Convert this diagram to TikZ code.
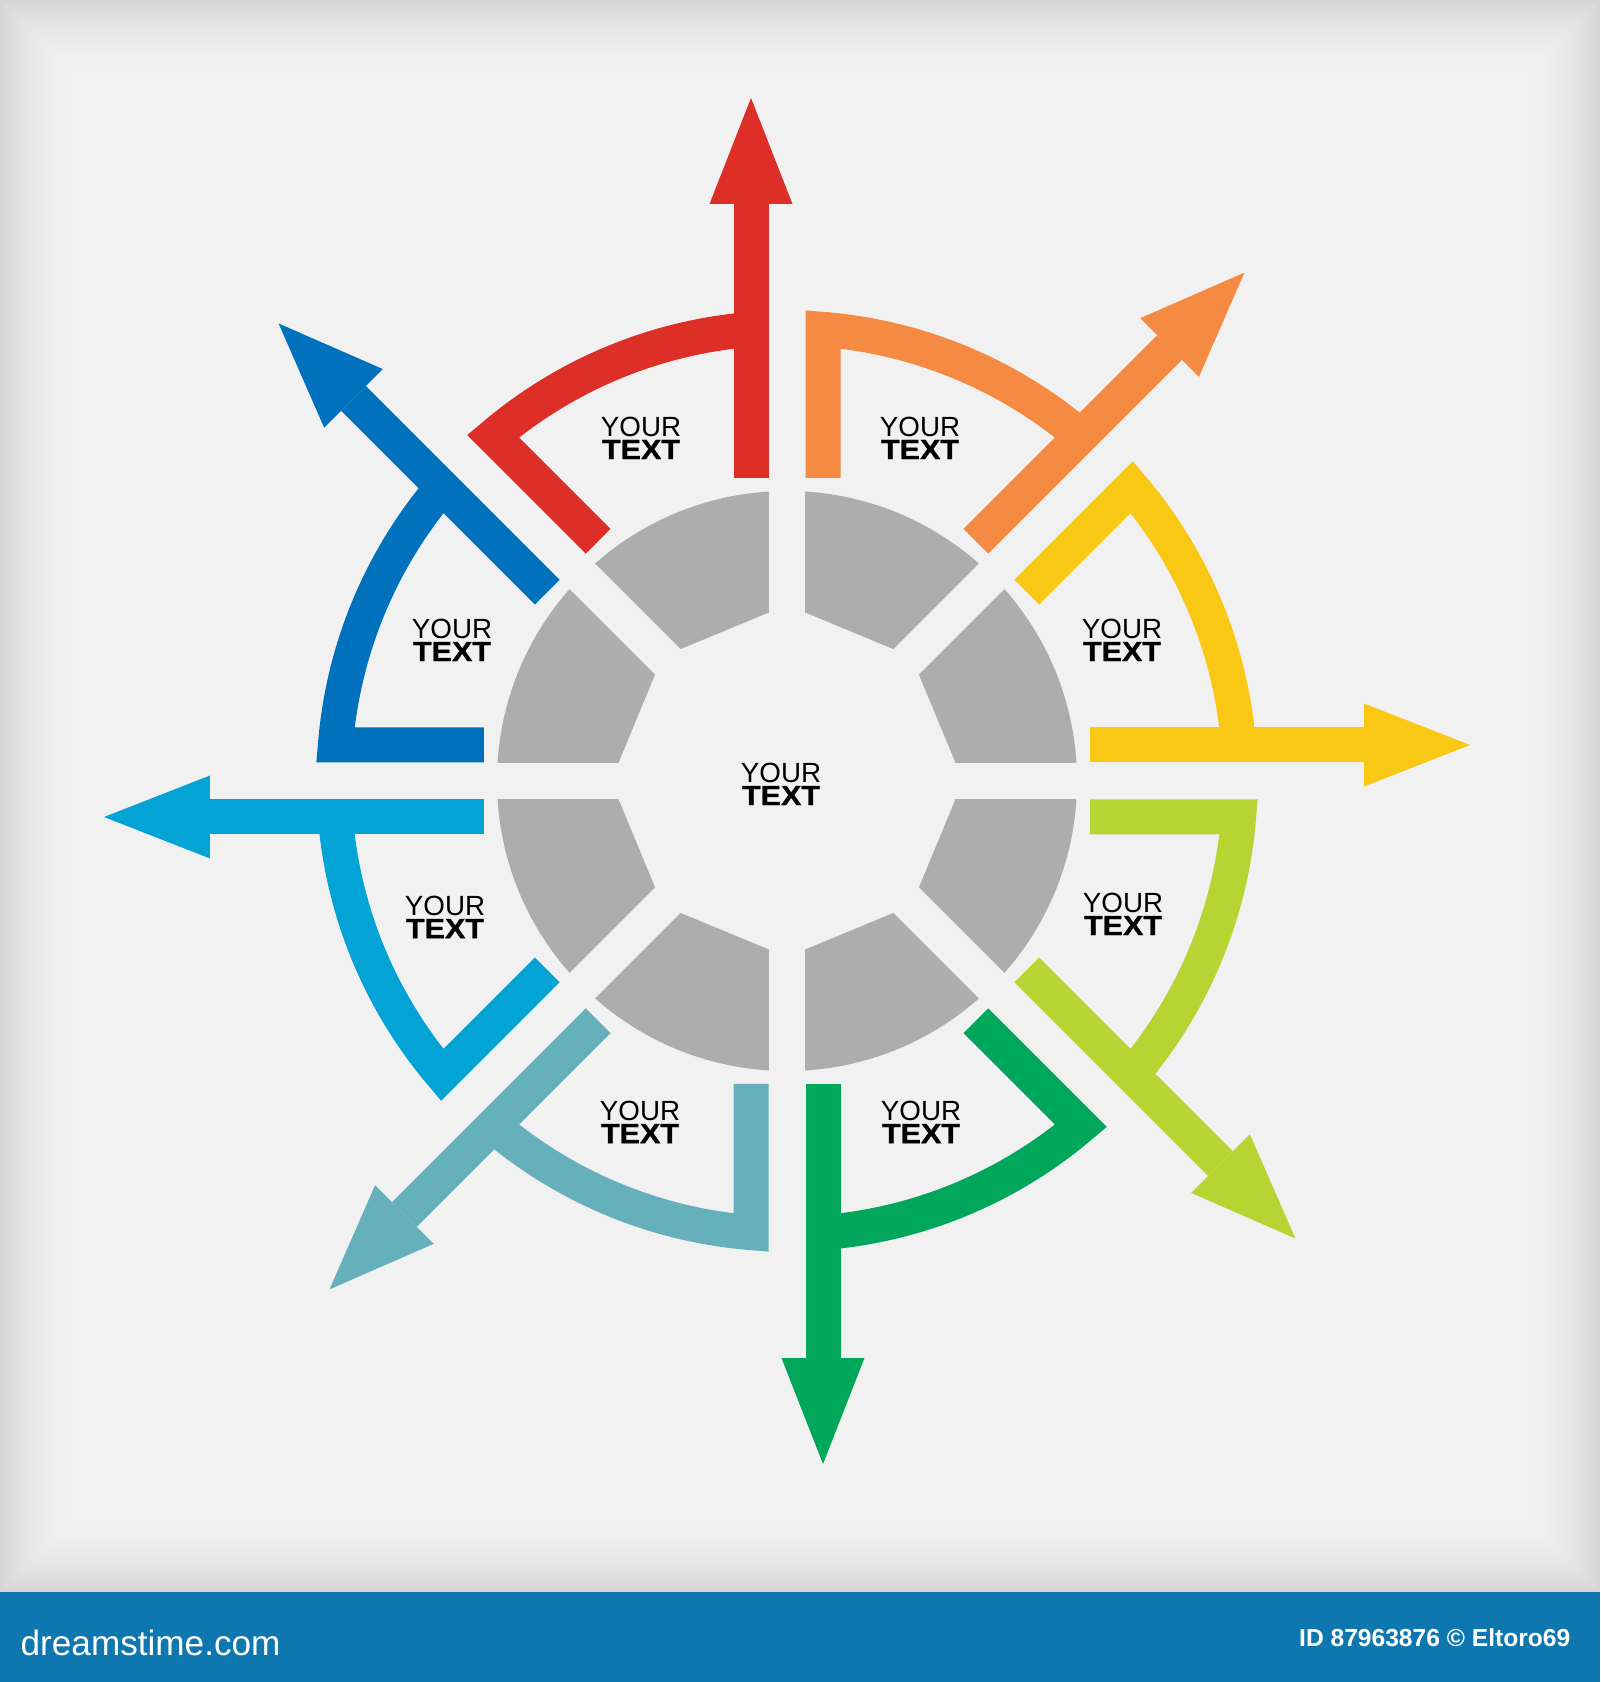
\documentclass[tikz,border=0pt]{standalone}
\usepackage{fontspec}
\setmainfont{Liberation Sans}
\newfontfamily\heavyfont{Liberation Sans Bold}[FakeBold=1,FakeStretch=1.1]
\usepackage{tikz}
\usetikzlibrary{calc}
\usetikzlibrary{arrows.meta}
\definecolor{bgGray}{HTML}{F1F1F1}
\definecolor{edgeGray}{HTML}{D6D6D6}
\definecolor{ringGray}{HTML}{ADADAD}
\definecolor{footBlue}{HTML}{0F77B0}
\definecolor{cRed}{HTML}{DD2E27}
\definecolor{cOrange}{HTML}{F58A42}
\definecolor{cYellow}{HTML}{F9C814}
\definecolor{cLime}{HTML}{B8D433}
\definecolor{cGreen}{HTML}{00A65A}
\definecolor{cTeal}{HTML}{66B0BB}
\definecolor{cSky}{HTML}{03A3D6}
\definecolor{cBlue}{HTML}{0071BC}
\tikzset{>=latex}
\tikzstyle{band} = [line width=3.5mm, line cap=butt, line join=miter, miter limit=10]
\tikzstyle{gap} = [draw=bgGray, line width=3.6mm]
\tikzstyle{lbl} = [align=center, inner sep=0pt, text=black, font=\fontsize{7.9}{6.5}\selectfont]
\newcommand{\yourtext}{YOUR\\{\heavyfont TEXT}}
\newcommand{\armsector}[2]{%
  \draw [band, draw=#2, -{Triangle[length=10.6mm, width=8.3mm, line width=0pt]}] ($(#1:303)+(#1+90:36)$) -- ($(#1:683)+(#1+90:36)$);
  \draw [band, draw=#2] ($(#1+45:303)+(#1-45:36)$) -- ($(#1+45:451.6)+(#1-45:36)$) arc [start angle=#1+40.44, end angle=#1+4.56, radius=453];
}

\begin{document}
\begin{tikzpicture}[x=0.1mm, y=0.1mm]
\useasboundingbox (-787,-901) rectangle (813,781);
\fill [bgGray] (-787,-811) rectangle (813,781);
\foreach \i [evaluate=\i as \p using int(100*(1-\i/30)^2)] in {0,...,29}
  \draw [draw=edgeGray!\p!bgGray, line width=0.27mm] (-785.5+2.5*\i,-809.5+2.5*\i) rectangle (811.5-2.5*\i,779.5-2.5*\i);
\fill [ringGray, even odd rule] (0,0) circle [radius=290] (0:176) -- (45:176) -- (90:176) -- (135:176) -- (180:176) -- (225:176) -- (270:176) -- (315:176) -- cycle;
\draw [gap] (0:300) -- (180:300);
\draw [gap] (45:300) -- (225:300);
\draw [gap] (90:300) -- (270:300);
\draw [gap] (135:300) -- (315:300);
\armsector{0}{cYellow}
\armsector{45}{cOrange}
\armsector{90}{cRed}
\armsector{135}{cBlue}
\armsector{180}{cSky}
\armsector{225}{cTeal}
\armsector{270}{cGreen}
\armsector{315}{cLime}
\node [lbl] (C) at (-6,-3) {\yourtext};
\node [lbl] (T1) at (335,141) {\yourtext};
\node [lbl] (T2) at (133,343) {\yourtext};
\node [lbl] (T3) at (-146,343) {\yourtext};
\node [lbl] (T4) at (-335,141) {\yourtext};
\node [lbl] (T5) at (-342,-136) {\yourtext};
\node [lbl] (T6) at (-147,-341) {\yourtext};
\node [lbl] (T7) at (134,-341) {\yourtext};
\node [lbl] (T8) at (336,-133) {\yourtext};
\fill [footBlue] (-787,-901) rectangle (813,-811);
\node [anchor=base west, inner sep=0pt, text=white, font=\fontsize{10}{12}\selectfont] (W) at (-767,-874) {dreamstime.com};
\node [anchor=base east, inner sep=0pt, text=white, font=\fontsize{7}{8}\selectfont\bfseries] (ID) at (784,-865) {ID 87963876 © Eltoro69};
\end{tikzpicture}
\end{document}
